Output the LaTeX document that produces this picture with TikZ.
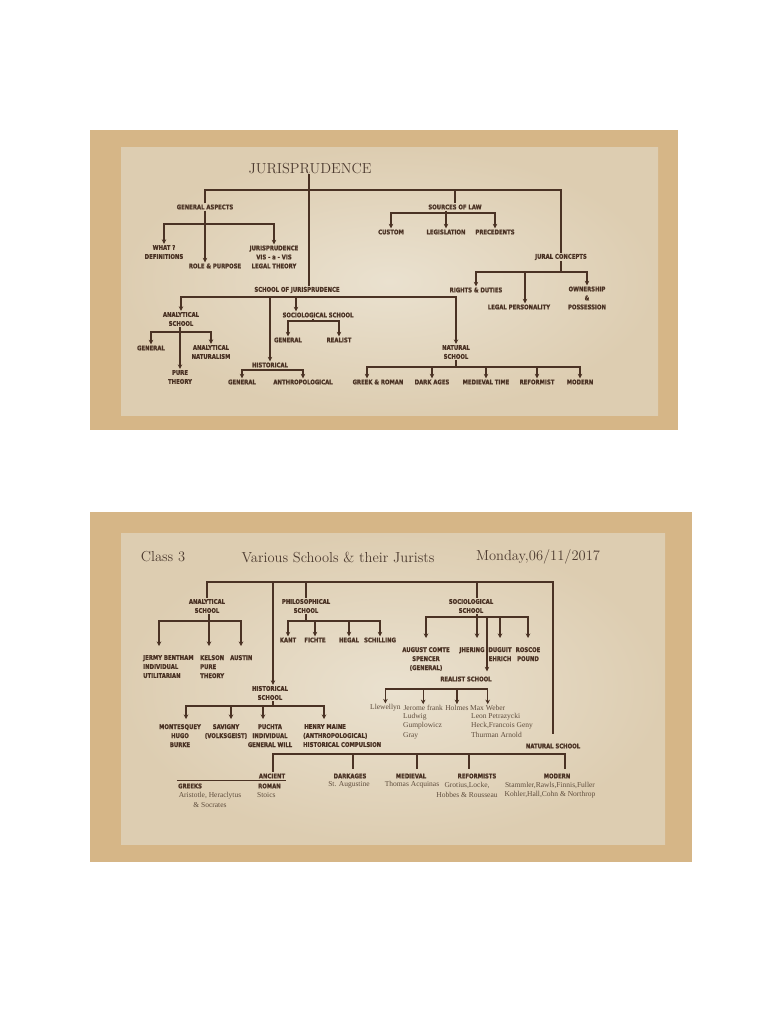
\documentclass[tikz,border=0pt]{standalone}
\usepackage{fontspec}
\usepackage{tikz}
\usetikzlibrary{positioning,calc,arrows.meta}
\newfontfamily\capsfont{DejaVu Sans}[FakeStretch=0.82, BoldFeatures={FakeBold=1.2}]
\newfontfamily\namefont{Liberation Serif}
\definecolor{cardtan}{HTML}{D6B687}
\definecolor{paperlt}{HTML}{EAE1CF}
\definecolor{paperdk}{HTML}{DDCDB1}
\definecolor{ink}{HTML}{4A3224}
\definecolor{inkname}{HTML}{5E4C3C}
\definecolor{inktitle}{HTML}{4D3B30}

\begin{document}
\begin{tikzpicture}[x=1pt, y=-1pt, >={Stealth[length=4.5pt,width=4.5pt]},
  lbl/.style={text=ink, font=\capsfont\bfseries\fontsize{6.5}{9}\selectfont, align=center, inner sep=1pt},
  nm/.style={text=inkname, font=\namefont\fontsize{7.5}{9.5}\selectfont, align=center, inner sep=1pt},
  ttl/.style={text=inktitle, font=\fontsize{14.5}{16}\selectfont, inner sep=0pt},
  br/.style={draw=ink, line width=1.3pt},
  arr/.style={br, ->}]

\useasboundingbox (0,0) rectangle (768,1024);

% the two cards
\fill[cardtan] (90,130) rectangle (678,430);
\shade[inner color=paperlt, outer color=paperdk] (121,148) rectangle (658,415);
\fill[cardtan] (90,512) rectangle (692,862);
\shade[inner color=paperlt, outer color=paperdk] (121,533) rectangle (665,844);

%%% first card
\node[ttl] (jur) at (310,169) {JURISPRUDENCE};
\node[lbl] (ga) at (205,207) {GENERAL ASPECTS};
\node[lbl] (sol) at (455,207) {SOURCES OF LAW};
\node[lbl] (jc) at (561,257) {JURAL CONCEPTS};
\node[lbl] (wd) at (164,252) {WHAT ?\\DEFINITIONS};
\node[lbl] (rp) at (215,266) {ROLE \& PURPOSE};
\node[lbl] (jv) at (274,257) {JURISPRUDENCE\\VIS - a - VIS\\LEGAL THEORY};
\node[lbl] (cus) at (391,232) {CUSTOM};
\node[lbl] (leg) at (446,232) {LEGISLATION};
\node[lbl] (pre) at (495,232) {PRECEDENTS};
\node[lbl] (rd) at (476,290) {RIGHTS \& DUTIES};
\node[lbl] (lp) at (519,307) {LEGAL PERSONALITY};
\node[lbl] (own) at (587,298) {OWNERSHIP\\\&\\POSSESSION};
\node[lbl] (soj) at (297,290) {SCHOOL OF JURISPRUDENCE};
\node[lbl] (an) at (181,319) {ANALYTICAL\\SCHOOL};
\node[lbl] (soc) at (318,315) {SOCIOLOGICAL SCHOOL};
\node[lbl] (his) at (270,365) {HISTORICAL};
\node[lbl] (nat) at (456,352) {NATURAL\\SCHOOL};
\node[lbl] (gen1) at (151,348) {GENERAL};
\node[lbl] (anat) at (211,352) {ANALYTICAL\\NATURALISM};
\node[lbl] (pt) at (180,377) {PURE\\THEORY};
\node[lbl] (gen2) at (288,340) {GENERAL};
\node[lbl] (real) at (339,340) {REALIST};
\node[lbl] (gen3) at (242,382) {GENERAL};
\node[lbl] (anth) at (303,382) {ANTHROPOLOGICAL};
\node[lbl] (gr) at (378,382) {GREEK \& ROMAN};
\node[lbl] (da) at (432,382) {DARK AGES};
\node[lbl] (mt) at (486,382) {MEDIEVAL TIME};
\node[lbl] (rf) at (537,382) {REFORMIST};
\node[lbl] (md) at (580,382) {MODERN};

\coordinate (t1) at (309,190);
\coordinate (t2) at (446,213);
\coordinate (t3) at (205,224);
\coordinate (t4) at (561,272);
\coordinate (t5) at (309,297);
\coordinate (t6) at (180,332);
\coordinate (t7) at (313,321);
\coordinate (t8) at (270,370);
\coordinate (t9) at (457,367);

\draw[br] (jur.south -| t1) -- (soj.north -| t1);
\draw[br] (ga.north) |- (t1) -| (jc.north);
\draw[br] (t1) -| (sol.north);
\draw[br] (sol.south -| t2) -- (t2);
\draw[arr] (t2) -| (cus.north);
\draw[arr] (t2) -- (leg.north);
\draw[arr] (t2) -| (pre.north);
\draw[arr] (ga.south) -- (ga.south |- rp.north);
\draw[arr] (t3) -| (wd.north);
\draw[arr] (t3) -| (jv.north);
\draw[br] (jc.south) -- (t4);
\draw[arr] (t4) -| (rd.north);
\draw[arr] (t4) -| ([xshift=6pt]lp.north);
\draw[arr] (t4) -| (own.north);
\draw[arr] (t5) -| (an.north);
\draw[arr] (t5) -| ([xshift=-22pt]soc.north);
\draw[arr] (t5) -| (nat.north);
\draw[arr] (his.north |- t5) -- (his.north);
\draw[arr] (an.south -| pt.north) -- (pt.north);
\draw[arr] (t6) -| (gen1.north);
\draw[arr] (t6) -| (anat.north);
\draw[br] (soc.south -| t7) -- (t7);
\draw[arr] (t7) -| (gen2.north);
\draw[arr] (t7) -| (real.north);
\draw[arr] (t8) -| (gen3.north);
\draw[arr] (t8) -| (anth.north);
\draw[br] (nat.south) -- (nat.south |- t9);
\draw[arr] (t9) -| ([xshift=-11pt]gr.north);
\draw[arr] (t9) -| (da.north);
\draw[arr] (t9) -| (mt.north);
\draw[arr] (t9) -| (rf.north);
\draw[arr] (t9) -| (md.north);

%%% second card
\node[ttl] (cls) at (163,557) {Class 3};
\node[ttl] (vs) at (338,557) {Various Schools \& their Jurists};
\node[ttl] (mon) at (538,557) {Monday,06/11/2017};

\node[lbl] (an2) at (207,606) {ANALYTICAL\\SCHOOL};
\node[lbl] (phil) at (306,606) {PHILOSOPHICAL\\SCHOOL};
\node[lbl] (soc2) at (471,606) {SOCIOLOGICAL\\SCHOOL};
\node[lbl, align=left, anchor=north west] (ben) at (142,654) {JERMY BENTHAM\\INDIVIDUAL\\UTILITARIAN};
\node[lbl, align=left, anchor=north west] (kel) at (199,654) {KELSON\\PURE\\THEORY};
\node[lbl, anchor=north west] (aus) at (229,654) {AUSTIN};
\node[lbl] (kant) at (288,640) {KANT};
\node[lbl] (fic) at (315,640) {FICHTE};
\node[lbl] (heg) at (349,640) {HEGAL};
\node[lbl] (sch) at (380,640) {SCHILLING};
\node[lbl, anchor=north] (acs) at (426,646) {AUGUST COMTE\\SPENCER\\(GENERAL)};
\node[lbl, anchor=north] (jh) at (472,646) {JHERING};
\node[lbl, anchor=north] (dug) at (500,646) {DUGUIT\\EHRICH};
\node[lbl, anchor=north] (ros) at (528,646) {ROSCOE\\POUND};
\node[lbl] (rs) at (466,679) {REALIST SCHOOL};
\node[nm, anchor=west] (llw) at (369,708) {Llewellyn};
\node[nm, right=0.5pt of llw] (jf) {Jerome frank};
\node[nm, right=0pt of jf] (hol) {Holmes};
\node[nm, anchor=west] (mw) at (469,708) {Max Weber};
\node[nm, align=left, anchor=north west] (lud) at (402,712) {Ludwig\\Gumplowicz\\Gray};
\node[nm, align=left, anchor=north west] (leo) at (470,712) {Leon Petrazycki\\Heck,Francois Geny\\Thurman Arnold};
\node[lbl] (his2) at (270,693) {HISTORICAL\\SCHOOL};
\node[lbl, anchor=north] (mq) at (180,723) {MONTESQUEY\\HUGO\\BURKE};
\node[lbl, anchor=north] (sav) at (226,723) {SAVIGNY\\(VOLKSGEIST)};
\node[lbl, anchor=north] (puc) at (270,723) {PUCHTA\\INDIVIDUAL\\GENERAL WILL};
\node[lbl, align=left, anchor=north west] (hm) at (302,723) {\,HENRY MAINE\\(ANTHROPOLOGICAL)\\HISTORICAL  COMPULSION};
\node[lbl] (nat2) at (553,746) {NATURAL SCHOOL};
\node[lbl] (anc) at (272,776) {ANCIENT};
\node[lbl, anchor=west] (grk) at (177,786) {GREEKS};
\node[lbl, anchor=west] (rom) at (257,786) {ROMAN};
\node[nm] (ari) at (210,800) {Aristotle, Heraclytus\\\& Socrates};
\node[nm, anchor=west] (sto) at (256,795) {Stoics};
\node[lbl] (dk) at (350,776) {DARKAGES};
\node[nm] (aug) at (349,785) {St. Augustine};
\node[lbl] (med) at (411,776) {MEDIEVAL};
\node[nm] (tho) at (412,785) {Thomas Acquinas};
\node[lbl] (rfm) at (477,776) {REFORMISTS};
\node[nm] (gro) at (467,790) {Grotius,Locke,\\Hobbes \& Rousseau};
\node[lbl] (mdn) at (557,776) {MODERN};
\node[nm] (stm) at (550,790) {Stammler,Rawls,Finnis,Fuller\\Kohler,Hall,Cohn \& Northrop};

\coordinate (c1) at (273,582);
\coordinate (c2) at (209,621);
\coordinate (c3) at (306,621);
\coordinate (c4) at (477,617);
\coordinate (c4r) at (487,617);
\coordinate (c6) at (440,689);
\coordinate (c7) at (273,706);
\coordinate (c8) at (273,754);

\draw[br] (an2.north) |- (c1) -| ([yshift=8pt]nat2.north);
\draw[br] (c1) -| (phil.north);
\draw[br] (c1) -| ([xshift=6pt]soc2.north);
\draw[arr] (c1) -- (c1 |- his2.north);
\draw[br] (an2.south -| c2) -- (c2);
\draw[arr, shorten >=8pt] (c2) -| ([xshift=17pt]ben.north west);
\draw[arr, shorten >=8pt] (c2) -- (c2 |- kel.north);
\draw[arr, shorten >=8pt] (c2) -| ([xshift=12pt]aus.north west);
\draw[br] (phil.south) -- (c3);
\draw[arr] (c3) -| (kant.north);
\draw[arr] (c3) -| (fic.north);
\draw[arr] (c3) -| (heg.north);
\draw[arr] (c3) -| (sch.north);
\draw[br] (soc2.south -| c4) -- (c4);
\draw[arr, shorten >=8pt] (c4) -| (acs.north);
\draw[arr, shorten >=8pt] (c4) -- (c4 |- jh.north);
\draw[arr, shorten >=8pt] (c4) -| (dug.north);
\draw[arr, shorten >=8pt] (c4) -| (ros.north);
\draw[arr, shorten >=4pt] (c4r) -- (c4r |- rs.north);
\draw[arr] (c6) -| (llw.north);
\draw[arr] (c6) -| (jf.north);
\draw[arr] (c6) -| (hol.north);
\draw[arr] (c6) -| (mw.north);
\draw[br] (his2.south -| c7) -- (c7);
\draw[arr, shorten >=4pt] (c7) -| ([xshift=6pt]mq.north);
\draw[arr, shorten >=4pt] (c7) -| ([xshift=5pt]sav.north);
\draw[arr, shorten >=4pt] (c7) -| ([xshift=-7pt]puc.north);
\draw[arr, shorten >=4pt] (c7) -| ([xshift=22pt]hm.north west);
\draw[br, shorten >=3pt] (c8 |- anc.north) -- (c8) -| ([xshift=8pt]mdn.north);
\draw[br, shorten >=3pt] (c8) -| ([xshift=3pt]dk.north);
\draw[br, shorten >=3pt] (c8) -| ([xshift=6pt]med.north);
\draw[br, shorten >=3pt] (c8) -| ([xshift=-8pt]rfm.north);
\draw[br] ([yshift=2pt]grk.north west) -- ([yshift=2pt]grk.north west -| anc.east);
\end{tikzpicture}
\end{document}
